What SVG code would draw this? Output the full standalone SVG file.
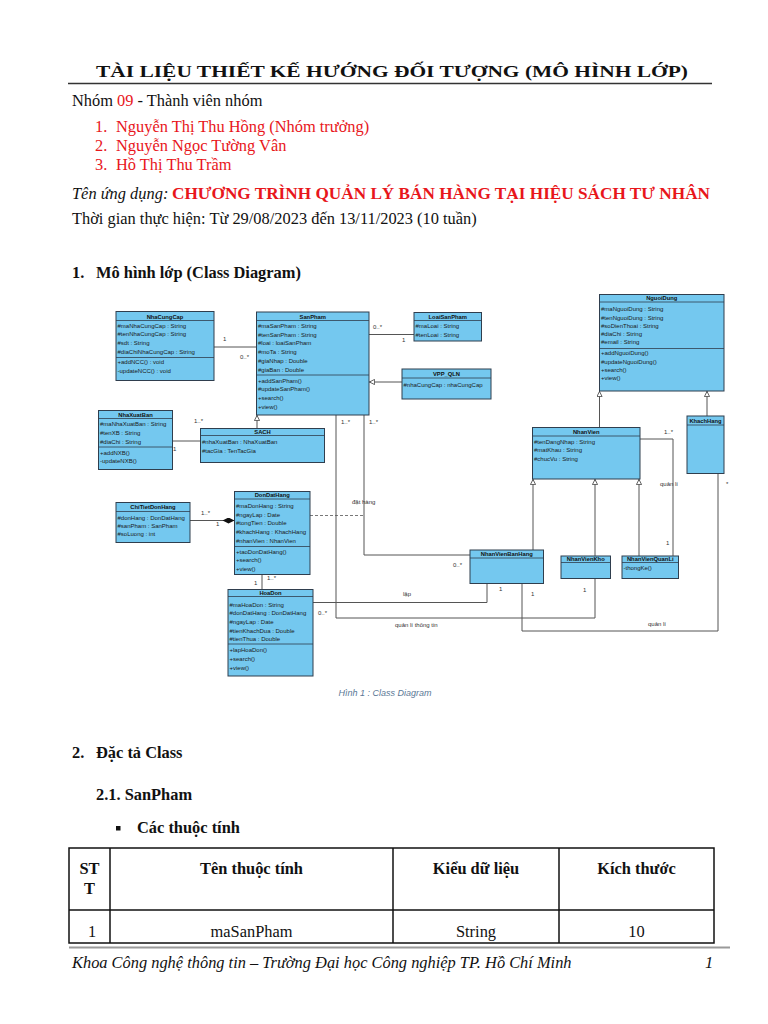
<svg xmlns="http://www.w3.org/2000/svg" width="768" height="1024" viewBox="0 0 768 1024">
<style>
.doc{font-family:"Liberation Serif","Times New Roman",serif;font-size:16.4px;fill:#111}
.b{font-weight:bold}
.i{font-style:italic}
.red{fill:#e8161b}
.box{fill:#74c8ef;stroke:#2f3e4e;stroke-width:1}
.sep{stroke:#2f3e4e;stroke-width:0.8}
.cn{font-family:"Liberation Sans",Arial,sans-serif;font-weight:bold;font-size:5.8px;text-anchor:middle;fill:#111}
.at{font-family:"Liberation Sans",Arial,sans-serif;font-size:6px;fill:#1a1a1a}
.lb{font-family:"Liberation Sans",Arial,sans-serif;font-size:6px;fill:#333}
.ln{fill:none;stroke:#555;stroke-width:1}
.dash{fill:none;stroke:#555;stroke-width:0.8;stroke-dasharray:3 2}
.tbl{fill:none;stroke:#111;stroke-width:1.5}
</style>
<defs>
<marker id="gen" viewBox="0 0 10 10" refX="10" refY="5" markerWidth="6" markerHeight="6" markerUnits="userSpaceOnUse" orient="auto">
<path d="M0.7,0.7 L9.3,5 L0.7,9.3 z" fill="#fff" stroke="#444" stroke-width="1.4"/>
</marker>
<marker id="comp" viewBox="0 0 12 6" refX="12" refY="3" markerWidth="12.5" markerHeight="6" markerUnits="userSpaceOnUse" orient="auto">
<path d="M0,3 L6,0 L12,3 L6,6 z" fill="#111"/>
</marker>
</defs>
<rect width="768" height="1024" fill="#fff"/>

<g id="header">
<text class="doc b" x="96" y="77" font-size="20.5" textLength="592" lengthAdjust="spacingAndGlyphs">TÀI LIỆU THIẾT KẾ HƯỚNG ĐỐI TƯỢNG (MÔ HÌNH LỚP)</text>
<line x1="68" y1="83.5" x2="712" y2="83.5" stroke="#333" stroke-width="1.5"/>
<text class="doc" x="72" y="106">Nhóm <tspan class="red">09</tspan> - Thành viên nhóm</text>
<text class="doc red" x="95" y="132">1.</text><text class="doc red" x="116" y="132">Nguyễn Thị Thu Hồng (Nhóm trưởng)</text>
<text class="doc red" x="95" y="151">2.</text><text class="doc red" x="116" y="151">Nguyễn Ngọc Tường Vân</text>
<text class="doc red" x="95" y="170">3.</text><text class="doc red" x="116" y="170">Hồ Thị Thu Trầm</text>
<text class="doc i" x="72" y="199">Tên ứng dụng:</text>
<text class="doc b red" x="172" y="199" textLength="538" lengthAdjust="spacingAndGlyphs">CHƯƠNG TRÌNH QUẢN LÝ BÁN HÀNG TẠI HIỆU SÁCH TƯ NHÂN</text>
<text class="doc" x="72" y="224">Thời gian thực hiện: Từ 29/08/2023 đến 13/11/2023 (10 tuần)</text>
<text class="doc b" x="72" y="278">1.</text><text class="doc b" x="96" y="278">Mô hình lớp (Class Diagram)</text>
</g>

<g id="connectors">
<path class="ln" d="M214,347 H256.5"/>
<text class="lb" x="223" y="341">1</text>
<text class="lb" x="240" y="359">0..*</text>
<path class="ln" d="M369,334.5 H414"/>
<text class="lb" x="373" y="329">0..*</text>
<text class="lb" x="402" y="342">1</text>
<path class="ln" d="M402,382 H369" marker-end="url(#gen)"/>
<path class="ln" d="M257,428.5 V415" marker-end="url(#gen)"/>
<path class="ln" d="M172.5,441 H200.5"/>
<text class="lb" x="194" y="423">1..*</text>
<text class="lb" x="173" y="451">1</text>
<path class="ln" d="M599.5,427.5 V391" marker-end="url(#gen)"/>
<path class="ln" d="M707,416 V391" marker-end="url(#gen)"/>
<path class="ln" d="M533,550 V479" marker-end="url(#gen)"/>
<path class="ln" d="M595,556 V479" marker-end="url(#gen)"/>
<path class="ln" d="M639,556 V479" marker-end="url(#gen)"/>
<path class="ln" d="M640,439 H673 V556"/>
<text class="lb" x="664" y="434">1..*</text>
<text class="lb" x="660" y="486">quản lí</text>
<text class="lb" x="666" y="545">1</text>
<path class="ln" d="M364,415 V555 H470"/>
<text class="lb" x="369" y="424">1..*</text>
<text class="lb" x="453" y="567">0..*</text>
<path class="ln" d="M336,415 V618 H595 V578.5"/>
<text class="lb" x="341" y="424">1..*</text>
<text class="lb" x="583" y="592">1</text>
<text class="lb" x="395" y="627">quản lí thông tin</text>
<path class="ln" d="M313,602.5 H487 V583.5"/>
<text class="lb" x="318" y="615">0..*</text>
<text class="lb" x="403" y="596">lập</text>
<text class="lb" x="499" y="591">1</text>
<path class="ln" d="M522,583.5 V631 H718 V473.5"/>
<text class="lb" x="531" y="596">1</text>
<text class="lb" x="648" y="626">quản lí</text>
<text class="lb" x="726" y="486">*</text>
<path class="ln" d="M190,520.5 H234.5" marker-end="url(#comp)"/>
<text class="lb" x="201" y="515">1..*</text>
<text class="lb" x="216" y="526">1</text>
<path class="ln" d="M262,574.5 V589.5"/>
<text class="lb" x="254" y="585">1</text>
<text class="lb" x="267" y="580">1..*</text>
<path class="dash" d="M310,515.5 H364"/>
<text class="lb" x="352" y="504">đặt hàng</text>
</g>

<g id="NhaCungCap">
<rect class="box" x="116" y="311.5" width="98" height="69"/>
<line class="sep" x1="116" y1="320.5" x2="214" y2="320.5"/>
<line class="sep" x1="116" y1="357.5" x2="214" y2="357.5"/>
<text class="cn" x="165" y="318.5">NhaCungCap</text>
<text class="at" x="117.5" y="327.7">#maNhaCungCap : String</text>
<text class="at" x="117.5" y="336.3">#tenNhaCungCap : String</text>
<text class="at" x="117.5" y="345">#sdt : String</text>
<text class="at" x="117.5" y="353.7">#diaChiNhaCungCap : String</text>
<text class="at" x="117.5" y="364">+addNCC() : void</text>
<text class="at" x="117.5" y="372.7">-updateNCC() : void</text>
</g>

<g id="SanPham">
<rect class="box" x="256.5" y="312" width="112.5" height="103"/>
<line class="sep" x1="256.5" y1="320.5" x2="369" y2="320.5"/>
<line class="sep" x1="256.5" y1="375" x2="369" y2="375"/>
<text class="cn" x="312.75" y="318.5">SanPham</text>
<text class="at" x="258" y="328">#maSanPham : String</text>
<text class="at" x="258" y="336.7">#tenSanPham : String</text>
<text class="at" x="258" y="345.4">#loai : loaiSanPham</text>
<text class="at" x="258" y="354.1">#moTa : String</text>
<text class="at" x="258" y="362.8">#giaNhap : Double</text>
<text class="at" x="258" y="371.5">#giaBan : Double</text>
<text class="at" x="258" y="382.5">+addSanPham()</text>
<text class="at" x="258" y="391.2">#updateSanPham()</text>
<text class="at" x="258" y="399.9">+search()</text>
<text class="at" x="258" y="408.6">+view()</text>
</g>

<g id="LoaiSanPham">
<rect class="box" x="414" y="312.5" width="67.5" height="28.5"/>
<line class="sep" x1="414" y1="320.5" x2="481.5" y2="320.5"/>
<text class="cn" x="447.75" y="318.5">LoaiSanPham</text>
<text class="at" x="415.5" y="328">#maLoai : String</text>
<text class="at" x="415.5" y="336.7">#tenLoai : String</text>
</g>

<g id="VPP_QLN">
<rect class="box" x="402" y="369" width="89" height="30"/>
<line class="sep" x1="402" y1="378" x2="491" y2="378"/>
<text class="cn" x="446.5" y="376">VPP_QLN</text>
<text class="at" x="403.5" y="386.7">#nhaCungCap : nhaCungCap</text>
</g>

<g id="NguoiDung">
<rect class="box" x="599.5" y="294.5" width="124.5" height="96.5"/>
<line class="sep" x1="599.5" y1="302" x2="724" y2="302"/>
<line class="sep" x1="599.5" y1="348.5" x2="724" y2="348.5"/>
<text class="cn" x="661.75" y="300.3">NguoiDung</text>
<text class="at" x="601" y="311.3">#maNguoiDung : String</text>
<text class="at" x="601" y="319.5">#tenNguoiDung : String</text>
<text class="at" x="601" y="327.7">#soDienThoai : String</text>
<text class="at" x="601" y="336">#diaChi : String</text>
<text class="at" x="601" y="344.3">#email : String</text>
<text class="at" x="601" y="355.3">+addNguoiDung()</text>
<text class="at" x="601" y="363.7">#updateNguoiDung()</text>
<text class="at" x="601" y="372">+search()</text>
<text class="at" x="601" y="380.3">+view()</text>
</g>

<g id="NhaXuatBan">
<rect class="box" x="98.5" y="410.5" width="74" height="59"/>
<line class="sep" x1="98.5" y1="418.5" x2="172.5" y2="418.5"/>
<line class="sep" x1="98.5" y1="447" x2="172.5" y2="447"/>
<text class="cn" x="135.5" y="416.5">NhaXuatBan</text>
<text class="at" x="100" y="426.3">#maNhaXuatBan : String</text>
<text class="at" x="100" y="435">#tenXB : String</text>
<text class="at" x="100" y="444">#diaChi : String</text>
<text class="at" x="100" y="455">+addNXB()</text>
<text class="at" x="100" y="463.3">-updateNXB()</text>
</g>

<g id="SACH">
<rect class="box" x="200.5" y="428.5" width="124" height="34"/>
<line class="sep" x1="200.5" y1="435.5" x2="324.5" y2="435.5"/>
<text class="cn" x="262.5" y="433.8">SACH</text>
<text class="at" x="202" y="444.3">#nhaXuatBan : NhaXuatBan</text>
<text class="at" x="202" y="453">#tacGia : TenTacGia</text>
</g>

<g id="NhanVien">
<rect class="box" x="532.5" y="427.5" width="107.5" height="51.5"/>
<line class="sep" x1="532.5" y1="436" x2="640" y2="436"/>
<text class="cn" x="586.25" y="434">NhanVien</text>
<text class="at" x="534" y="443.7">#tenDangNhap : String</text>
<text class="at" x="534" y="452.3">#matKhau : String</text>
<text class="at" x="534" y="461">#chucVu : String</text>
</g>

<g id="KhachHang">
<rect class="box" x="687" y="416" width="37" height="57.5"/>
<line class="sep" x1="687" y1="425" x2="724" y2="425"/>
<text class="cn" x="705.5" y="423">KhachHang</text>
</g>

<g id="ChiTietDonHang">
<rect class="box" x="116" y="502.5" width="74" height="40"/>
<line class="sep" x1="116" y1="511.5" x2="190" y2="511.5"/>
<text class="cn" x="153" y="509.3">ChiTietDonHang</text>
<text class="at" x="117.5" y="520">#donHang : DonDatHang</text>
<text class="at" x="117.5" y="528">#sanPham : SanPham</text>
<text class="at" x="117.5" y="536">#soLuong : int</text>
</g>

<g id="DonDatHang">
<rect class="box" x="234.5" y="491.5" width="75.5" height="83"/>
<line class="sep" x1="234.5" y1="499" x2="310" y2="499"/>
<line class="sep" x1="234.5" y1="546.5" x2="310" y2="546.5"/>
<text class="cn" x="272.25" y="497">DonDatHang</text>
<text class="at" x="236" y="508">#maDonHang : String</text>
<text class="at" x="236" y="516.7">#ngayLap : Date</text>
<text class="at" x="236" y="525.3">#tongTien : Double</text>
<text class="at" x="236" y="534">#khachHang : KhachHang</text>
<text class="at" x="236" y="542.7">#nhanVien : NhanVien</text>
<text class="at" x="236" y="553.7">+taoDonDatHang()</text>
<text class="at" x="236" y="562">+search()</text>
<text class="at" x="236" y="570.7">+view()</text>
</g>

<g id="HoaDon">
<rect class="box" x="228" y="589.5" width="85" height="86.5"/>
<line class="sep" x1="228" y1="596.5" x2="313" y2="596.5"/>
<line class="sep" x1="228" y1="644" x2="313" y2="644"/>
<text class="cn" x="270.5" y="594.8">HoaDon</text>
<text class="at" x="229.5" y="606.7">#maHoaDon : String</text>
<text class="at" x="229.5" y="615.3">#donDatHang : DonDatHang</text>
<text class="at" x="229.5" y="624">#ngayLap : Date</text>
<text class="at" x="229.5" y="632.7">#tienKhachDua : Double</text>
<text class="at" x="229.5" y="641">#tienThua : Double</text>
<text class="at" x="229.5" y="652.3">+lapHoaDon()</text>
<text class="at" x="229.5" y="660.7">+search()</text>
<text class="at" x="229.5" y="669.7">+view()</text>
</g>

<g id="NhanVienBanHang">
<rect class="box" x="470" y="550" width="73.5" height="33.5"/>
<line class="sep" x1="470" y1="558" x2="543.5" y2="558"/>
<text class="cn" x="506.75" y="556">NhanVienBanHang</text>
</g>

<g id="NhanVienKho">
<rect class="box" x="561" y="556" width="49.5" height="22.5"/>
<line class="sep" x1="561" y1="562.5" x2="610.5" y2="562.5"/>
<text class="cn" x="585.75" y="561">NhanVienKho</text>
</g>

<g id="NhanVienQuanLi">
<rect class="box" x="622" y="556" width="56.5" height="22.5"/>
<line class="sep" x1="622" y1="562.5" x2="678.5" y2="562.5"/>
<text class="cn" x="650.25" y="561">NhanVienQuanLi</text>
<text class="at" x="623.5" y="570">-thongKe()</text>
</g>

<text x="385" y="696" text-anchor="middle" font-family="'Liberation Sans',Arial,sans-serif" font-style="italic" font-size="9" fill="#5a7896">Hình  1 : Class Diagram</text>

<g id="section2">
<text class="doc b" x="72" y="758">2.</text><text class="doc b" x="96" y="758">Đặc tả Class</text>
<text class="doc b" x="96" y="800">2.1. SanPham</text>
<rect x="116" y="826" width="4.5" height="4.5" fill="#111"/>
<text class="doc b" x="137" y="833">Các thuộc tính</text>
</g>

<g id="table">
<rect class="tbl" x="69" y="848" width="645" height="95"/>
<line class="tbl" x1="69" y1="910" x2="714" y2="910"/>
<line class="tbl" x1="110" y1="848" x2="110" y2="943"/>
<line class="tbl" x1="393" y1="848" x2="393" y2="943"/>
<line class="tbl" x1="559" y1="848" x2="559" y2="943"/>
<g class="doc b" text-anchor="middle">
<text x="89.5" y="874">ST</text>
<text x="89.5" y="894">T</text>
<text x="251.5" y="874">Tên thuộc tính</text>
<text x="476" y="874">Kiểu dữ liệu</text>
<text x="636.5" y="874">Kích thước</text>
</g>
<g class="doc" text-anchor="middle">
<text x="92" y="937">1</text>
<text x="251.5" y="937">maSanPham</text>
<text x="476" y="937">String</text>
<text x="636.5" y="937">10</text>
</g>
</g>

<g id="footer">
<line x1="69" y1="947.5" x2="730" y2="947.5" stroke="#9a9a9a" stroke-width="2"/>
<text class="doc i" x="72" y="968">Khoa Công nghệ thông tin – Trường Đại học Công nghiệp TP. Hồ Chí Minh</text>
<text class="doc i" x="705" y="968">1</text>
</g>
</svg>
